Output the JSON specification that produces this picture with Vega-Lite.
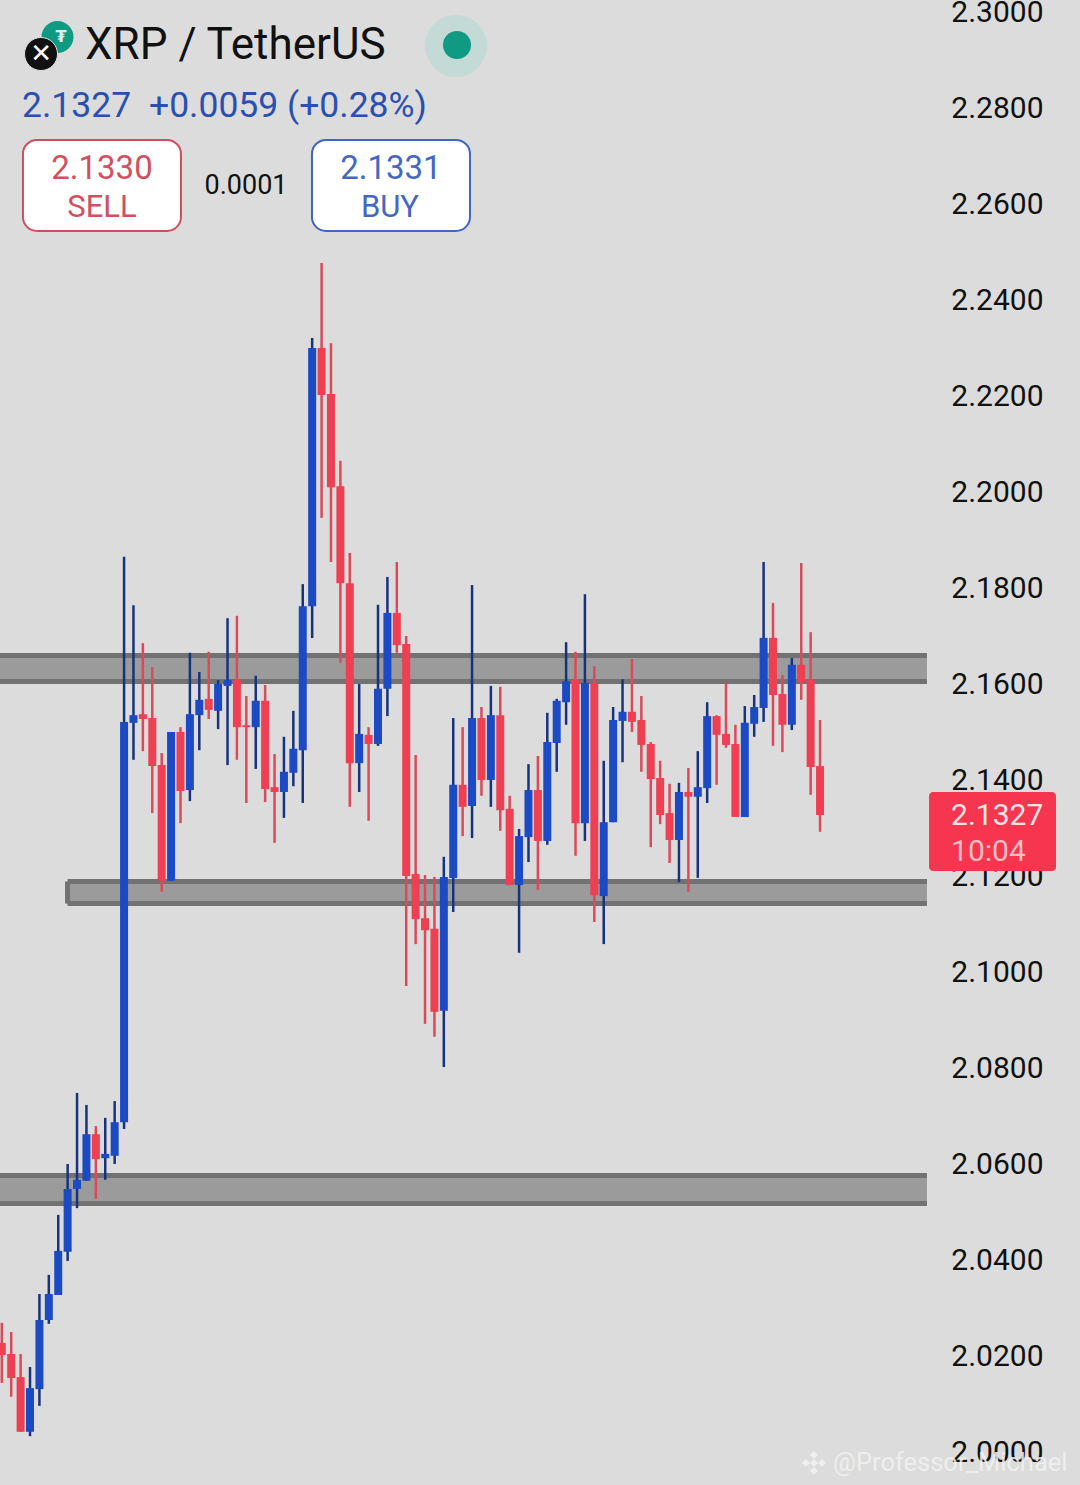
{
  "$schema": "https://vega.github.io/schema/vega-lite/v6.json",
  "description": "XRP / TetherUS candles with three grey zones",
  "width": 1080,
  "height": 1485,
  "padding": 0,
  "autosize": "none",
  "background": "#dcdcdc",
  "config": {"view": {"stroke": null}, "text": {"font": "Roboto"}},
  "datasets": {
    "zones": [
      {"zone": "upper", "from": -0.191, "to": 98.37, "lo": 2.16031, "hi": 2.16573},
      {"zone": "middle", "from": 6.99, "to": 98.37, "lo": 2.11406, "hi": 2.11865},
      {"zone": "lower", "from": -0.191, "to": 98.37, "lo": 2.05156, "hi": 2.0574}
    ],
    "candles": [
      {"i":0,"open":2.0225,"high":2.0267,"low":2.0142,"close":2.02},
      {"i":1,"open":2.0202,"high":2.0248,"low":2.0113,"close":2.0152},
      {"i":2,"open":2.0154,"high":2.0202,"low":2.004,"close":2.004},
      {"i":3,"open":2.004,"high":2.0175,"low":2.0031,"close":2.0131},
      {"i":4,"open":2.0129,"high":2.0327,"low":2.0094,"close":2.0273},
      {"i":5,"open":2.0273,"high":2.0367,"low":2.0265,"close":2.0327},
      {"i":6,"open":2.0325,"high":2.0492,"low":2.0325,"close":2.0417},
      {"i":7,"open":2.0415,"high":2.0598,"low":2.0396,"close":2.0546},
      {"i":8,"open":2.0546,"high":2.0746,"low":2.0506,"close":2.0565},
      {"i":9,"open":2.0563,"high":2.0721,"low":2.0563,"close":2.066},
      {"i":10,"open":2.066,"high":2.0677,"low":2.0525,"close":2.0608},
      {"i":11,"open":2.061,"high":2.0694,"low":2.0565,"close":2.0619},
      {"i":12,"open":2.0615,"high":2.0729,"low":2.0598,"close":2.0685},
      {"i":13,"open":2.0685,"high":2.1863,"low":2.0671,"close":2.1519},
      {"i":14,"open":2.1517,"high":2.1762,"low":2.144,"close":2.1533},
      {"i":15,"open":2.1535,"high":2.1683,"low":2.1458,"close":2.1525},
      {"i":16,"open":2.1527,"high":2.1633,"low":2.1329,"close":2.1427},
      {"i":17,"open":2.1429,"high":2.1454,"low":2.1165,"close":2.1188},
      {"i":18,"open":2.1188,"high":2.1498,"low":2.1188,"close":2.1498},
      {"i":19,"open":2.1498,"high":2.1508,"low":2.1308,"close":2.1375},
      {"i":20,"open":2.1377,"high":2.1663,"low":2.1354,"close":2.1535},
      {"i":21,"open":2.1533,"high":2.1623,"low":2.146,"close":2.1565},
      {"i":22,"open":2.1567,"high":2.1665,"low":2.1525,"close":2.1544},
      {"i":23,"open":2.1542,"high":2.1606,"low":2.1504,"close":2.1598},
      {"i":24,"open":2.1594,"high":2.1735,"low":2.1429,"close":2.1606},
      {"i":25,"open":2.1606,"high":2.174,"low":2.144,"close":2.1508},
      {"i":26,"open":2.1512,"high":2.1573,"low":2.135,"close":2.1508},
      {"i":27,"open":2.1508,"high":2.1615,"low":2.1421,"close":2.1563},
      {"i":28,"open":2.1563,"high":2.1596,"low":2.1352,"close":2.1379},
      {"i":29,"open":2.1383,"high":2.1452,"low":2.1267,"close":2.1373},
      {"i":30,"open":2.1373,"high":2.1488,"low":2.1319,"close":2.1415},
      {"i":31,"open":2.1413,"high":2.1542,"low":2.1385,"close":2.1463},
      {"i":32,"open":2.146,"high":2.1806,"low":2.135,"close":2.176},
      {"i":33,"open":2.176,"high":2.2319,"low":2.1694,"close":2.2298},
      {"i":34,"open":2.2298,"high":2.2475,"low":2.1944,"close":2.22},
      {"i":35,"open":2.2202,"high":2.2308,"low":2.1852,"close":2.2008},
      {"i":36,"open":2.201,"high":2.2063,"low":2.1642,"close":2.1808},
      {"i":37,"open":2.1808,"high":2.1871,"low":2.1342,"close":2.1433},
      {"i":38,"open":2.1433,"high":2.1598,"low":2.1373,"close":2.1494},
      {"i":39,"open":2.1492,"high":2.1508,"low":2.1313,"close":2.1473},
      {"i":40,"open":2.1473,"high":2.1763,"low":2.1469,"close":2.1588},
      {"i":41,"open":2.1588,"high":2.1821,"low":2.1531,"close":2.1746},
      {"i":42,"open":2.1746,"high":2.1852,"low":2.1663,"close":2.1679},
      {"i":43,"open":2.1681,"high":2.1698,"low":2.0969,"close":2.1198},
      {"i":44,"open":2.1202,"high":2.145,"low":2.1056,"close":2.1108},
      {"i":45,"open":2.111,"high":2.12,"low":2.089,"close":2.1085},
      {"i":46,"open":2.1088,"high":2.1196,"low":2.0863,"close":2.0915},
      {"i":47,"open":2.0917,"high":2.1238,"low":2.08,"close":2.1196},
      {"i":48,"open":2.1194,"high":2.1527,"low":2.1123,"close":2.1388},
      {"i":49,"open":2.1388,"high":2.1508,"low":2.1281,"close":2.1342},
      {"i":50,"open":2.1344,"high":2.1804,"low":2.1277,"close":2.1527},
      {"i":51,"open":2.1527,"high":2.155,"low":2.1365,"close":2.1398},
      {"i":52,"open":2.1398,"high":2.1594,"low":2.1342,"close":2.1533},
      {"i":53,"open":2.1533,"high":2.1592,"low":2.1292,"close":2.1335},
      {"i":54,"open":2.1338,"high":2.1365,"low":2.1179,"close":2.1179},
      {"i":55,"open":2.1179,"high":2.1296,"low":2.1038,"close":2.1281},
      {"i":56,"open":2.1279,"high":2.1431,"low":2.1227,"close":2.1377},
      {"i":57,"open":2.1377,"high":2.1448,"low":2.1169,"close":2.1271},
      {"i":58,"open":2.1271,"high":2.1538,"low":2.1263,"close":2.1477},
      {"i":59,"open":2.1475,"high":2.1567,"low":2.1415,"close":2.1563},
      {"i":60,"open":2.156,"high":2.1685,"low":2.1513,"close":2.1604},
      {"i":61,"open":2.1606,"high":2.1665,"low":2.124,"close":2.1308},
      {"i":62,"open":2.1308,"high":2.1785,"low":2.1271,"close":2.16},
      {"i":63,"open":2.16,"high":2.1635,"low":2.1102,"close":2.1158},
      {"i":64,"open":2.1156,"high":2.1438,"low":2.1056,"close":2.131},
      {"i":65,"open":2.131,"high":2.155,"low":2.131,"close":2.1523},
      {"i":66,"open":2.1521,"high":2.1608,"low":2.1435,"close":2.154},
      {"i":67,"open":2.154,"high":2.165,"low":2.1498,"close":2.1519},
      {"i":68,"open":2.1523,"high":2.1573,"low":2.1415,"close":2.1471},
      {"i":69,"open":2.1473,"high":2.1477,"low":2.1258,"close":2.14},
      {"i":70,"open":2.1402,"high":2.1438,"low":2.1306,"close":2.1325},
      {"i":71,"open":2.1329,"high":2.139,"low":2.1225,"close":2.1273},
      {"i":72,"open":2.1273,"high":2.1392,"low":2.1185,"close":2.1373},
      {"i":73,"open":2.1373,"high":2.1423,"low":2.1165,"close":2.1363},
      {"i":74,"open":2.1363,"high":2.1458,"low":2.1194,"close":2.1383},
      {"i":75,"open":2.1381,"high":2.156,"low":2.135,"close":2.1531},
      {"i":76,"open":2.1531,"high":2.1533,"low":2.1388,"close":2.1492},
      {"i":77,"open":2.1494,"high":2.16,"low":2.1465,"close":2.1471},
      {"i":78,"open":2.1473,"high":2.1513,"low":2.1321,"close":2.1321},
      {"i":79,"open":2.1321,"high":2.1552,"low":2.1321,"close":2.1517},
      {"i":80,"open":2.1515,"high":2.1575,"low":2.1488,"close":2.155},
      {"i":81,"open":2.1548,"high":2.1852,"low":2.1519,"close":2.1694},
      {"i":82,"open":2.1694,"high":2.1767,"low":2.1469,"close":2.1575},
      {"i":83,"open":2.1577,"high":2.1617,"low":2.1456,"close":2.1513},
      {"i":84,"open":2.1513,"high":2.1652,"low":2.1502,"close":2.1638},
      {"i":85,"open":2.1638,"high":2.185,"low":2.1565,"close":2.1602},
      {"i":86,"open":2.1606,"high":2.1706,"low":2.1367,"close":2.1425},
      {"i":87,"open":2.1427,"high":2.1523,"low":2.129,"close":2.1325}
    ]
  },
  "layer": [
    {
      "data": {"name": "zones"},
      "mark": {"type": "rect", "color": "#9b9b9b"},
      "encoding": {
        "x": {"field": "from", "type": "quantitative", "scale": {"domain": [-0.191, 114.64], "nice": false, "zero": false, "padding": 0}, "axis": null},
        "x2": {"field": "to"},
        "y": {
          "field": "lo", "type": "quantitative",
          "scale": {"domain": [1.99292, 2.30229], "nice": false, "zero": false, "padding": 0},
          "axis": {
            "orient": "right", "title": null, "domain": false, "ticks": false, "grid": false,
            "values": [2, 2.02, 2.04, 2.06, 2.08, 2.1, 2.12, 2.14, 2.16, 2.18, 2.2, 2.22, 2.24, 2.26, 2.28, 2.3],
            "format": ".4f", "labelAlign": "right", "labelPadding": -37, "labelOffset": 1.5, "labelOverlap": false, "labelBound": false,
            "labelFont": "Roboto", "labelFontSize": 30, "labelColor": "#111111", "zindex": 0
          }
        },
        "y2": {"field": "hi"}
      }
    },
    {
      "data": {"name": "zones"},
      "mark": {"type": "rule", "color": "#727272", "strokeWidth": 5},
      "encoding": {
        "x": {"field": "from", "type": "quantitative", "axis": null},
        "x2": {"field": "to"},
        "y": {"field": "hi", "type": "quantitative"}
      }
    },
    {
      "data": {"name": "zones"},
      "mark": {"type": "rule", "color": "#727272", "strokeWidth": 5},
      "encoding": {
        "x": {"field": "from", "type": "quantitative", "axis": null},
        "x2": {"field": "to"},
        "y": {"field": "lo", "type": "quantitative"}
      }
    },
    {
      "data": {"name": "zones"},
      "transform": [{"filter": "datum.zone === 'middle'"}],
      "mark": {"type": "rule", "color": "#727272", "strokeWidth": 5},
      "encoding": {
        "x": {"field": "from", "type": "quantitative", "axis": null},
        "y": {"field": "lo", "type": "quantitative"},
        "y2": {"field": "hi"}
      }
    },
    {
      "data": {"name": "candles"},
      "mark": {"type": "rule", "strokeWidth": 2.5},
      "encoding": {
        "x": {"field": "i", "type": "quantitative", "axis": null},
        "y": {"field": "low", "type": "quantitative"},
        "y2": {"field": "high"},
        "color": {"condition": {"test": "datum.close >= datum.open", "value": "#16337f"}, "value": "#dc4a5a"}
      }
    },
    {
      "data": {"name": "candles"},
      "mark": {"type": "bar", "width": 8},
      "encoding": {
        "x": {"field": "i", "type": "quantitative", "axis": null},
        "y": {"field": "open", "type": "quantitative"},
        "y2": {"field": "close"},
        "color": {"condition": {"test": "datum.close >= datum.open", "value": "#1c4ac4"}, "value": "#ee4052"}
      }
    },
    {
      "data": {"values": [{"x": 5.92, "y": 2.29458}]},
      "mark": {"type": "point", "filled": true, "opacity": 1, "size": 1024, "color": "#0f9a83"},
      "encoding": {"x": {"field": "x", "type": "quantitative", "axis": null}, "y": {"field": "y", "type": "quantitative"}}
    },
    {
      "data": {"values": [{"x": 6.3, "y": 2.29458, "label": "₮"}]},
      "mark": {"type": "text", "font": "DejaVu Sans", "fontSize": 16, "fontWeight": "bold", "color": "#d8efe9", "baseline": "middle"},
      "encoding": {"x": {"field": "x", "type": "quantitative", "axis": null}, "y": {"field": "y", "type": "quantitative"}, "text": {"field": "label"}}
    },
    {
      "data": {"values": [{"x": 4.17, "y": 2.29104}]},
      "mark": {"type": "point", "filled": true, "opacity": 1, "size": 1089, "color": "#111111", "stroke": "#dcdcdc", "strokeWidth": 1},
      "encoding": {"x": {"field": "x", "type": "quantitative", "axis": null}, "y": {"field": "y", "type": "quantitative"}}
    },
    {
      "data": {"values": [{"x": 4.17, "y": 2.29104, "label": "✕"}]},
      "mark": {"type": "text", "font": "DejaVu Sans", "fontSize": 26, "color": "#ffffff", "baseline": "middle"},
      "encoding": {"x": {"field": "x", "type": "quantitative", "axis": null}, "y": {"field": "y", "type": "quantitative"}, "text": {"field": "label"}}
    },
    {
      "data": {"values": [{"x": 48.29, "y": 2.29271}]},
      "mark": {"type": "point", "filled": true, "opacity": 1, "size": 3844, "color": "#c4dad6"},
      "encoding": {"x": {"field": "x", "type": "quantitative", "axis": null}, "y": {"field": "y", "type": "quantitative"}}
    },
    {
      "data": {"values": [{"x": 48.4, "y": 2.29292}]},
      "mark": {"type": "point", "filled": true, "opacity": 1, "size": 784, "color": "#0f9a83"},
      "encoding": {"x": {"field": "x", "type": "quantitative", "axis": null}, "y": {"field": "y", "type": "quantitative"}}
    },
    {
      "data": {"values": [{"x": 8.85, "y": 2.29271, "label": "XRP / TetherUS"}]},
      "mark": {"type": "text", "fontSize": 44, "color": "#111111", "align": "left", "baseline": "middle"},
      "encoding": {"x": {"field": "x", "type": "quantitative", "axis": null}, "y": {"field": "y", "type": "quantitative"}, "text": {"field": "label"}}
    },
    {
      "data": {"values": [{"x": 2.15, "y": 2.28021, "label": "2.1327"}, {"x": 15.65, "y": 2.28021, "label": "+0.0059 (+0.28%)"}]},
      "mark": {"type": "text", "fontSize": 35.5, "color": "#2a4fb0", "align": "left", "baseline": "middle"},
      "encoding": {"x": {"field": "x", "type": "quantitative", "axis": null}, "y": {"field": "y", "type": "quantitative"}, "text": {"field": "label"}}
    },
    {
      "data": {"values": [{"x": 2.25, "x2": 19.05, "y": 2.25417, "y2": 2.27313}]},
      "mark": {"type": "rect", "color": "#ffffff", "stroke": "#c9505f", "strokeWidth": 2, "cornerRadius": 14},
      "encoding": {"x": {"field": "x", "type": "quantitative", "axis": null}, "x2": {"field": "x2"}, "y": {"field": "y", "type": "quantitative"}, "y2": {"field": "y2"}}
    },
    {
      "data": {"values": [{"x": 32.98, "x2": 49.78, "y": 2.25417, "y2": 2.27313}]},
      "mark": {"type": "rect", "color": "#ffffff", "stroke": "#3f66c0", "strokeWidth": 2, "cornerRadius": 14},
      "encoding": {"x": {"field": "x", "type": "quantitative", "axis": null}, "x2": {"field": "x2"}, "y": {"field": "y", "type": "quantitative"}, "y2": {"field": "y2"}}
    },
    {
      "data": {"values": [{"x": 10.65, "y": 2.26708, "label": "2.1330"}]},
      "mark": {"type": "text", "fontSize": 33, "color": "#d0505f", "baseline": "middle"},
      "encoding": {"x": {"field": "x", "type": "quantitative", "axis": null}, "y": {"field": "y", "type": "quantitative"}, "text": {"field": "label"}}
    },
    {
      "data": {"values": [{"x": 10.65, "y": 2.25896, "label": "SELL"}]},
      "mark": {"type": "text", "fontSize": 31, "color": "#d0505f", "baseline": "middle"},
      "encoding": {"x": {"field": "x", "type": "quantitative", "axis": null}, "y": {"field": "y", "type": "quantitative"}, "text": {"field": "label"}}
    },
    {
      "data": {"values": [{"x": 41.37, "y": 2.26708, "label": "2.1331"}]},
      "mark": {"type": "text", "fontSize": 33, "color": "#4468c0", "baseline": "middle"},
      "encoding": {"x": {"field": "x", "type": "quantitative", "axis": null}, "y": {"field": "y", "type": "quantitative"}, "text": {"field": "label"}}
    },
    {
      "data": {"values": [{"x": 41.27, "y": 2.25896, "label": "BUY"}]},
      "mark": {"type": "text", "fontSize": 31, "color": "#4468c0", "baseline": "middle"},
      "encoding": {"x": {"field": "x", "type": "quantitative", "axis": null}, "y": {"field": "y", "type": "quantitative"}, "text": {"field": "label"}}
    },
    {
      "data": {"values": [{"x": 25.97, "y": 2.26354, "label": "0.0001"}]},
      "mark": {"type": "text", "fontSize": 27, "color": "#111111", "baseline": "middle"},
      "encoding": {"x": {"field": "x", "type": "quantitative", "axis": null}, "y": {"field": "y", "type": "quantitative"}, "text": {"field": "label"}}
    },
    {
      "data": {"values": [{"x": 98.59, "x2": 112.09, "y": 2.12083, "y2": 2.13729}]},
      "mark": {"type": "rect", "color": "#f5364e", "cornerRadius": 4},
      "encoding": {"x": {"field": "x", "type": "quantitative", "axis": null}, "x2": {"field": "x2"}, "y": {"field": "y", "type": "quantitative"}, "y2": {"field": "y2"}}
    },
    {
      "data": {"values": [{"x": 100.93, "y": 2.13229, "label": "2.1327"}]},
      "mark": {"type": "text", "fontSize": 30, "color": "#fde3e6", "align": "left", "baseline": "middle"},
      "encoding": {"x": {"field": "x", "type": "quantitative", "axis": null}, "y": {"field": "y", "type": "quantitative"}, "text": {"field": "label"}}
    },
    {
      "data": {"values": [{"x": 100.93, "y": 2.12479, "label": "10:04"}]},
      "mark": {"type": "text", "fontSize": 30, "color": "#fcbcc4", "align": "left", "baseline": "middle"},
      "encoding": {"x": {"field": "x", "type": "quantitative", "axis": null}, "y": {"field": "y", "type": "quantitative"}, "text": {"field": "label"}}
    },
    {
      "data": {"values": [{"x": 86.36, "y": 1.99917}, {"x": 86.36, "y": 1.99583}, {"x": 85.51, "y": 1.9975}, {"x": 87.21, "y": 1.9975}, {"x": 86.36, "y": 1.9975}]},
      "mark": {"type": "point", "shape": "diamond", "filled": true, "opacity": 0.85, "size": 64, "color": "#f2f2f2"},
      "encoding": {"x": {"field": "x", "type": "quantitative", "axis": null}, "y": {"field": "y", "type": "quantitative"}}
    },
    {
      "data": {"values": [{"x": 88.38, "y": 1.9975, "label": "@Professor_Michael"}]},
      "mark": {"type": "text", "fontSize": 25.5, "color": "#f2f2f2", "opacity": 0.85, "align": "left", "baseline": "middle"},
      "encoding": {"x": {"field": "x", "type": "quantitative", "axis": null}, "y": {"field": "y", "type": "quantitative"}, "text": {"field": "label"}}
    }
  ]
}
